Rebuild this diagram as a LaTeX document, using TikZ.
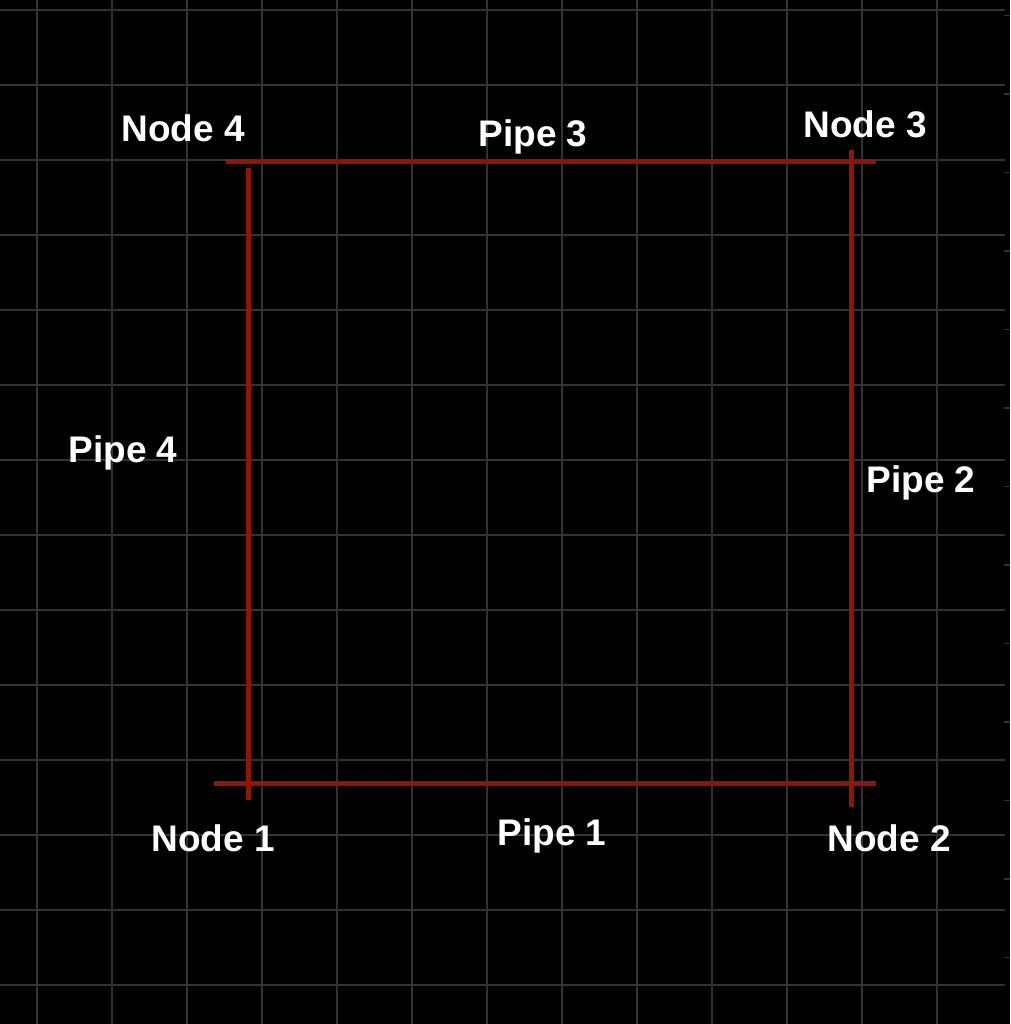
\documentclass[tikz,border=0pt]{standalone}
\usepackage{fontspec}
\setmainfont{Liberation Sans}
\begin{document}
\begin{tikzpicture}[x=1pt,y=-1pt,
  lbl/.style={text=white,font=\fontsize{37}{40}\selectfont\bfseries,inner sep=0pt},
  pipe/.style={draw={rgb,255:red,140;green,22;blue,8},line width=5pt},
  gridl/.style={draw={rgb,255:red,50;green,50;blue,50},line width=1.3pt}]
\fill[black] (0,0) rectangle (1010,1024);
\useasboundingbox (0,0) rectangle (1010,1024);
\foreach \x in {37,112,...,1000} \draw[gridl] (\x,0) -- (\x,1024);
\foreach \y in {10,85,...,1000} \draw[gridl] (0,\y) -- (1005,\y);
\foreach \y in {15.5,94,...,1020} \draw[gridl] (1004,\y) -- (1010,\y);
% pipe ends
\coordinate (t1) at (226,162); \coordinate (t2) at (876,162);
\coordinate (l1) at (248,168); \coordinate (l2) at (248,800);
\coordinate (b1) at (214,783); \coordinate (b2) at (876,783);
\coordinate (r1) at (851,150); \coordinate (r2) at (851,807);
\draw[pipe] (t1) -- (t2);
\draw[pipe] (l1) -- (l2);
\draw[pipe] (b1) -- (b2);
\draw[pipe] (r1) -- (r2);
\node[lbl] (n4) at (183,128) {Node 4};
\node[lbl] (p3) at (533,137) {Pipe 3};
\node[lbl] (n3) at (865,124) {Node 3};
\node[lbl] (p4) at (123,453) {Pipe 4};
\node[lbl] (p2) at (921,483) {Pipe 2};
\node[lbl] (n1) at (213,838) {Node 1};
\node[lbl] (p1) at (552,836) {Pipe 1};
\node[lbl] (n2) at (889,838) {Node 2};
\end{tikzpicture}
\end{document}
